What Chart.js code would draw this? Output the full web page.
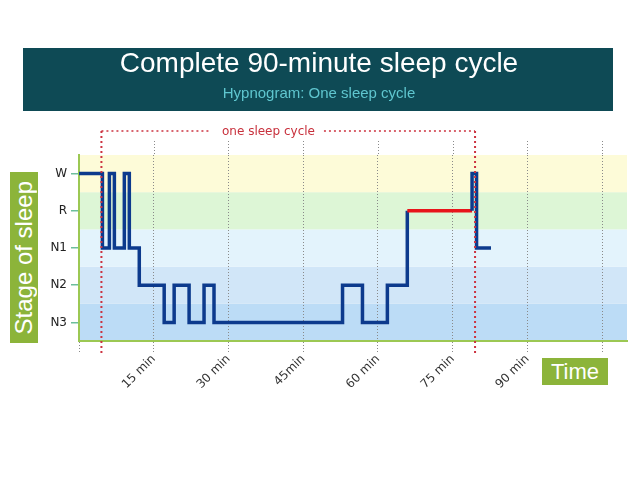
<!DOCTYPE html>
<html lang="en">
<head>
    <meta charset="UTF-8">
    <title>Complete 90-minute sleep cycle</title>
    <script src="https://cdn.jsdelivr.net/npm/chart.js"></script>
    <style>
        body { margin: 0; background: #fff; font-family: "Liberation Sans", Arial, sans-serif; }
        .wrap { position: relative; width: 638px; height: 478px; overflow: hidden; }
        #hypno { position: absolute; left: 0; top: 0; }
        .header { position: absolute; left: 23px; top: 48px; width: 590px; height: 63px; background: #0e4a55; }
        .title { position: absolute; left: 0; width: 638px; top: 49px; text-align: center; color: #fff; font-size: 28px; line-height: 28px; }
        .subtitle { position: absolute; left: 0; width: 638px; top: 85px; text-align: center; color: #5fc6cf; font-size: 15px; line-height: 15px; }
        .ytitle { position: absolute; left: 10px; top: 172px; width: 28px; height: 171px; background: #8cb43a; color: #fff;
                  display: flex; align-items: center; justify-content: center; }
        .ytitle span { writing-mode: vertical-rl; transform: rotate(180deg); font-size: 24px; line-height: 28px; white-space: nowrap; }
        .xtitle { position: absolute; left: 542px; top: 358px; width: 66px; height: 27px; background: #8cb43a; color: #fff;
                  font-size: 22px; line-height: 27px; text-align: center; }
    </style>
</head>
<body>
<div class="wrap">
    <canvas id="hypno" width="638" height="478"></canvas>
    <div class="header"></div>
    <div class="title">Complete 90-minute sleep cycle</div>
    <div class="subtitle">Hypnogram: One sleep cycle</div>
    <div class="ytitle"><span>Stage of sleep</span></div>
    <div class="xtitle">Time</div>
</div>

<script>
    // sleep stages, bottom to top
    const stageNames = ['N3', 'N2', 'N1', 'R', 'W'];
    const bandColors = ['#bcdcf6', '#d1e6f8', '#e3f3fc', '#ddf6d6', '#fdfbd8'];

    // hypnogram: minute where each stage starts
    const minutes = [0, 4.7, 6.1, 7.1, 9.1, 10.1, 12.1, 17.1, 19.1, 22.1, 25.1, 27.1, 52.9, 56.9, 61.9, 65.9, 78.9, 78.9, 79.8, 82.7];
    const stages  = ['W', 'N1', 'W', 'N1', 'W', 'N1', 'N2', 'N3', 'N2', 'N3', 'N2', 'N3', 'N2', 'N3', 'N2', 'R', 'R', 'W', 'N1', 'N1'];

    const xTicks = [0, 15, 30, 45, 60, 75, 90, 105];
    const xTickLabels = ['', '15 min', '30 min', '45min', '60 min', '75 min', '90 min', ''];

    const cycleStart = 4.5;
    const cycleEnd = 79.5;
    const cycleLabel = 'one sleep cycle';

    const lineBlue = '#0c3a8d';
    const remRed = '#e8141b';
    const axisGreen = '#9cc853';
    const tickTeal = '#6cbf9c';

    const points = minutes.map((m, i) => ({ x: m, y: stageNames.indexOf(stages[i]) }));

    const bandsPlugin = {
        id: 'bands',
        beforeDraw(chart) {
            const { ctx, chartArea, scales } = chart;
            ctx.save();
            stageNames.forEach((s, i) => {
                const top = scales.y.getPixelForValue(i + 0.5);
                const bottom = scales.y.getPixelForValue(i - 0.5);
                ctx.fillStyle = bandColors[i];
                ctx.fillRect(chartArea.left, top, chartArea.right - chartArea.left, bottom - top);
            });
            ctx.restore();
        }
    };

    const cyclePlugin = {
        id: 'cycle',
        afterDraw(chart) {
            const { ctx, chartArea, scales } = chart;
            ctx.save();
            // grid lines poke out above the bands
            ctx.strokeStyle = '#8a8a8a';
            ctx.lineWidth = 1;
            ctx.setLineDash([1, 2]);
            xTicks.slice(1).forEach(t => {
                const x = Math.round(scales.x.getPixelForValue(t)) + 0.5;
                ctx.beginPath();
                ctx.moveTo(x, 141);
                ctx.lineTo(x, chartArea.top);
                ctx.stroke();
            });

            // one sleep cycle bracket
            const x0 = scales.x.getPixelForValue(cycleStart);
            const x1 = scales.x.getPixelForValue(cycleEnd);
            const topY = 131;
            ctx.font = '12px "DejaVu Sans", Verdana, sans-serif';
            const tw = ctx.measureText(cycleLabel).width;
            const tx = 222;
            ctx.fillStyle = '#c8303c';
            ctx.textBaseline = 'alphabetic';
            ctx.fillText(cycleLabel, tx, 135);

            ctx.strokeStyle = '#cc3340';
            ctx.lineWidth = 2;
            ctx.setLineDash([2, 3]);
            ctx.beginPath();
            ctx.moveTo(x0, topY);
            ctx.lineTo(x0, 353);
            ctx.moveTo(x1, topY);
            ctx.lineTo(x1, 353);
            ctx.stroke();
            ctx.lineWidth = 1.5;
            ctx.beginPath();
            ctx.moveTo(x0, topY);
            ctx.lineTo(tx - 12, topY);
            ctx.moveTo(tx + tw + 9, topY);
            ctx.lineTo(x1, topY);
            ctx.stroke();
            ctx.restore();
        }
    };

    new Chart(document.getElementById('hypno'), {
        type: 'line',
        data: {
            datasets: [{
                data: points,
                stepped: true,
                borderColor: lineBlue,
                borderWidth: 3.5,
                pointRadius: 0,
                fill: false,
                segment: {
                    borderColor: c => (c.p0.parsed.y === 3 && c.p1.parsed.y === 3) ? remRed : lineBlue
                }
            }]
        },
        options: {
            responsive: false,
            animation: false,
            layout: { padding: { left: 0, top: 155, right: 11, bottom: 0 } },
            plugins: { legend: { display: false }, tooltip: { enabled: false } },
            scales: {
                x: {
                    type: 'linear',
                    min: 0,
                    max: 110,
                    afterFit: s => { s.height = 137; },
                    afterBuildTicks: s => { s.ticks = xTicks.map(v => ({ value: v })); },
                    ticks: {
                        autoSkip: false,
                        minRotation: 45,
                        maxRotation: 45,
                        padding: 0,
                        color: '#333',
                        font: { family: '"DejaVu Sans", Verdana, sans-serif', size: 12 },
                        callback: v => xTickLabels[xTicks.indexOf(v)]
                    },
                    grid: {
                        color: '#8a8a8a',
                        lineWidth: 1,
                        tickLength: 11,
                        tickBorderDash: [1, 2]
                    },
                    // in v4 border.dash dashes the grid lines, not the axis line
                    border: { display: true, color: axisGreen, width: 2, dash: [1, 2] }
                },
                y: {
                    type: 'linear',
                    min: -0.5,
                    max: 4.5,
                    afterFit: s => { s.width = 79; },
                    afterBuildTicks: s => { s.ticks = stageNames.map((n, i) => ({ value: i })); },
                    ticks: {
                        padding: 4,
                        color: '#222',
                        font: { family: '"DejaVu Sans", Verdana, sans-serif', size: 12 },
                        callback: v => stageNames[v]
                    },
                    grid: {
                        drawOnChartArea: false,
                        color: tickTeal,
                        lineWidth: 1.5,
                        tickLength: 8
                    },
                    border: { display: true, color: axisGreen, width: 2 }
                }
            }
        },
        plugins: [bandsPlugin, cyclePlugin]
    });
</script>
</body>
</html>
